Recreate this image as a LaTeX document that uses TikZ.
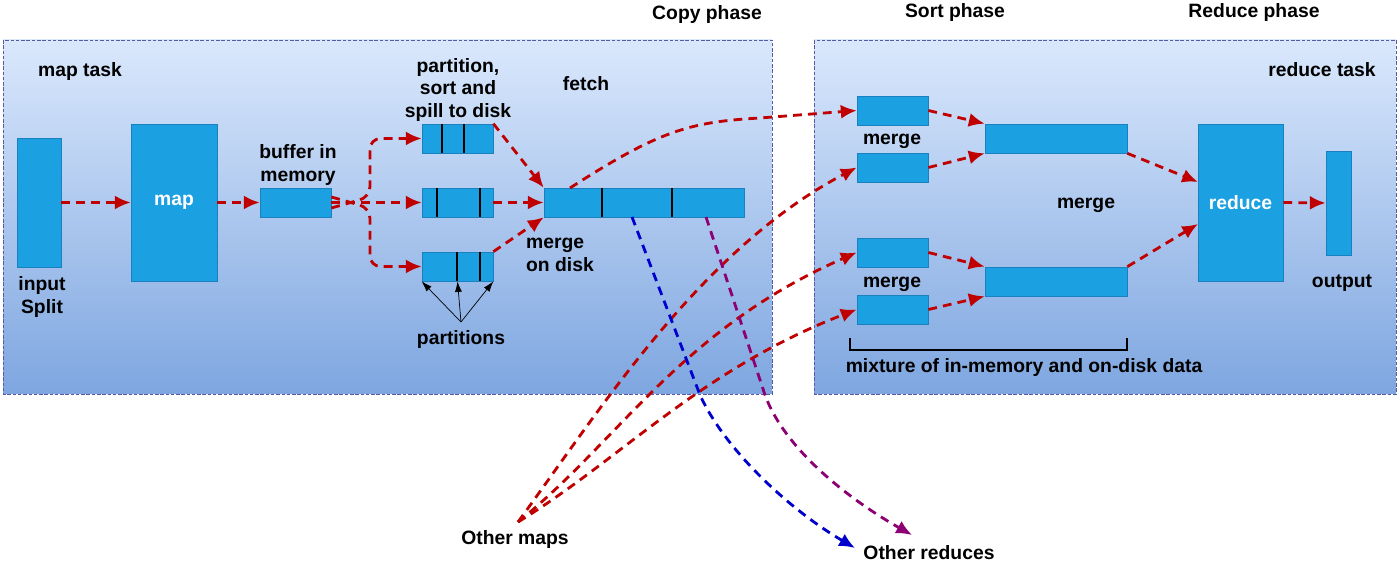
\documentclass[tikz,border=0pt]{standalone}
\usepackage{fontspec}
\setmainfont{Liberation Sans}
\usetikzlibrary{arrows.meta}
\definecolor{boxblue}{HTML}{1BA1E2}
\definecolor{boxedge}{HTML}{1A80C0}
\definecolor{flowred}{HTML}{C00000}
\definecolor{panelTop}{HTML}{DAE8FC}
\definecolor{panelBot}{HTML}{7EA6E0}
\begin{document}
\begin{tikzpicture}[x=0.02cm,y=-0.02cm,
  lbl/.style={font=\fontsize{11}{13}\selectfont\bfseries,align=center,inner sep=0},
  box/.style 2 args={draw=boxedge,fill=boxblue,minimum width=#1*0.02cm,minimum height=#2*0.02cm,inner sep=0},
  panel/.style={draw=gray!70!blue,dash pattern=on 2pt off 1pt,top color=panelTop,bottom color=panelBot},
  bar/.style={line width=1.3pt},
  flow/.style={draw=flowred,line width=1.6pt,dash pattern=on 5pt off 3.5pt,-{Latex[length=9pt,width=8pt]}},
  blueflow/.style={flow,draw=blue!80!black},
  purpleflow/.style={flow,draw=violet!80!purple}]
  \useasboundingbox[fill=white] (0,0) rectangle (1399,563);

  % panels
  \path[panel] (3,40) rectangle (772,394);
  \path[panel] (814,40) rectangle (1396,394);

  % phase titles
  \node[lbl] (copy) at (707,15) {Copy phase};
  \node[lbl] (sort) at (955,13) {Sort phase};
  \node[lbl] (redph) at (1254,13) {Reduce phase};
  \node[lbl] (maptask) at (80,72) {map task};
  \node[lbl] (redtask) at (1322,70) {reduce task};

  % map side
  \node[box={44}{129}] (input) at (39,202.5) {};
  \node[box={86}{157},text=white,font=\fontsize{11}{13}\selectfont\bfseries] (map) at (174,202.5) {map};
  \node[box={71}{29}] (buf) at (295.5,202.5) {};
  \node[box={71}{29}] (p1) at (457.5,138.5) {};
  \node[box={71}{29}] (p2) at (457.5,202.5) {};
  \node[box={71}{29}] (p3) at (457.5,266.5) {};
  \node[box={200}{29}] (mg) at (644,202.5) {};
  \draw[bar] (442,124) -- (442,153) (464,124) -- (464,153);
  \draw[bar] (437,188) -- (437,217) (480,188) -- (480,217);
  \draw[bar] (457,252) -- (457,281) (480,252) -- (480,281);
  \draw[bar] (602,188) -- (602,217) (672,188) -- (672,217);

  \node[lbl] (inlbl) at (42,297) {input\\Split};
  \node[lbl] (buflbl) at (298,165) {buffer in\\memory};
  \node[lbl] (spill) at (458,90) {partition,\\sort and\\spill to disk};
  \node[lbl] (fetch) at (586,84) {fetch};
  \node[lbl,align=left] (mod) at (560,255) {merge\\on disk};
  \node[lbl] (parts) at (461,340) {partitions};
  \coordinate (pt) at (461,322);
  \draw[-{Latex[length=6pt,width=4pt]}] (pt) -- (p3.south west);
  \draw[-{Latex[length=6pt,width=4pt]}] (pt) -- (p3.south);
  \draw[-{Latex[length=6pt,width=4pt]}] (pt) -- (p3.south east);

  % reduce side
  \node[box={71}{29}] (m1) at (892.5,110.5) {};
  \node[box={71}{29}] (m2) at (892.5,167.5) {};
  \node[box={71}{29}] (m3) at (892.5,252.5) {};
  \node[box={71}{29}] (m4) at (892.5,309.5) {};
  \node[box={142}{29}] (b1) at (1056,138.5) {};
  \node[box={142}{29}] (b2) at (1056,281.5) {};
  \node[box={85}{157},text=white,font=\fontsize{11}{13}\selectfont\bfseries] (red) at (1240.5,202.5) {reduce};
  \node[box={25}{104}] (out) at (1338.5,203) {};
  \node[lbl] (mlbl1) at (892,141) {merge};
  \node[lbl] (mlbl2) at (892,284) {merge};
  \node[lbl] (mlbl3) at (1086,205) {merge};
  \node[lbl] (outlbl) at (1342,283) {output};
  \node[lbl] (mix) at (1024,368) {mixture of in-memory and on-disk data};
  \draw[line width=0.6pt] (850,338) -- (850,350) -- (1127,350) -- (1127,338);

  \node[lbl] (omaps) at (515,540) {Other maps};
  \node[lbl] (oreds) at (929,553) {Other reduces};
  \coordinate (om) at (518,522);

  % flows
  \draw[flow] (input.east) -- (map.west);
  \draw[flow] (map.east) -- (buf.west);
  \draw[flow,rounded corners=6] ([yshift=-5.5*0.02cm]buf.east) -- (370,197) -- (370,138.5) -- (p1.west);
  \draw[flow] (buf.east) -- (p2.west);
  \draw[flow,rounded corners=6] ([yshift=5.5*0.02cm]buf.east) -- (370,208) -- (370,266.5) -- (p3.west);
  \draw[flow] (p1.north east) -- (mg.north west);
  \draw[flow] (p2.east) -- (mg.west);
  \draw[flow] (p3.north east) -- (mg.south west);
  \draw[flow] (570,188) .. controls (660,130) and (690,122) .. (760,118) -- (m1.west);

  \draw[flow] (om) .. controls (600,410) and (700,250) .. (m2.west);
  \draw[flow] (om) .. controls (620,440) and (680,330) .. (m3.west);
  \draw[flow] (om) .. controls (620,460) and (700,370) .. (m4.west);

  \draw[flow] (m1.east) -- (b1.north west);
  \draw[flow] (m2.east) -- (b1.south west);
  \draw[flow] (m3.east) -- (b2.north west);
  \draw[flow] (m4.east) -- (b2.south west);
  \draw[flow] (b1.south east) -- (1198,182);
  \draw[flow] (b2.north east) -- (1198,224);
  \draw[flow] (red.east) -- (out.west);

  \draw[blueflow] (632,217) -- (700,395) .. controls (725,450) and (790,510) .. (855,548);
  \draw[purpleflow] (706,217) -- (765,395) .. controls (785,450) and (850,500) .. (912,535);
\end{tikzpicture}
\end{document}
